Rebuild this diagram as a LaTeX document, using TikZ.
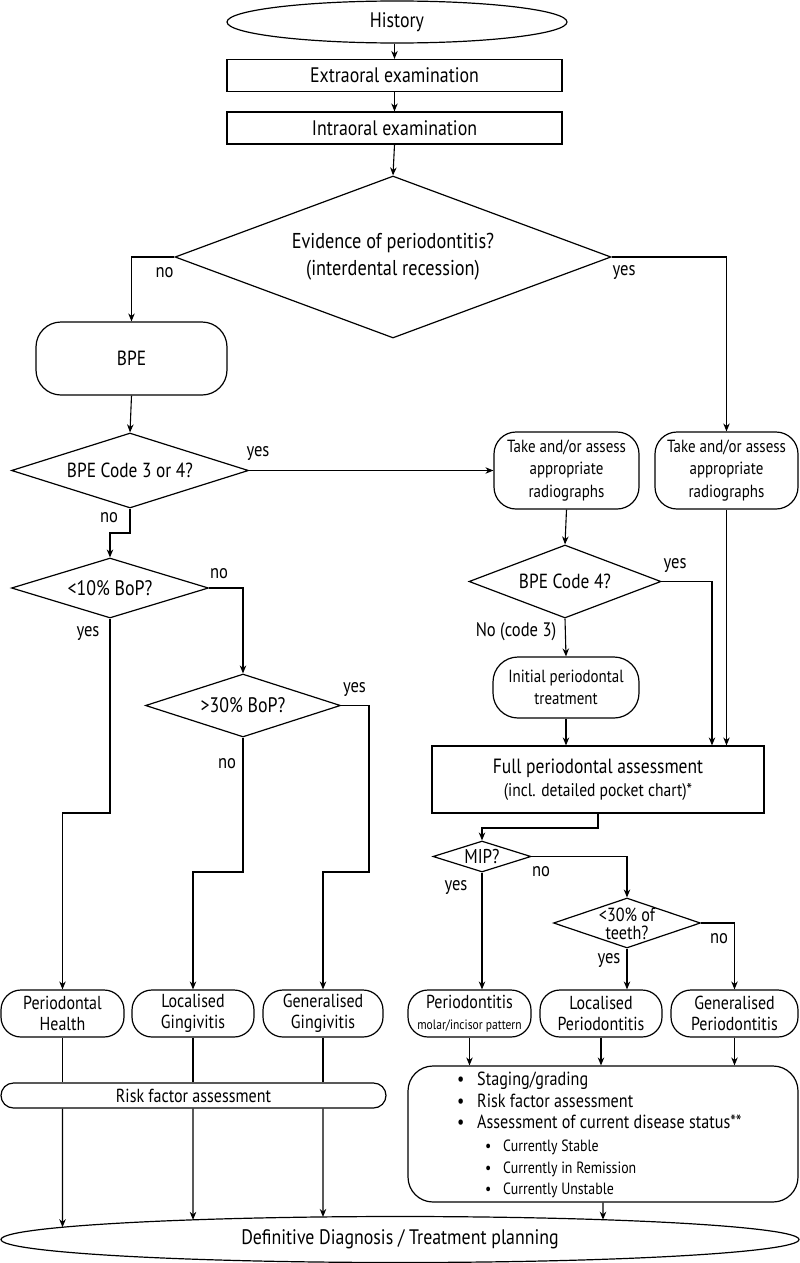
\documentclass[tikz,border=0pt]{standalone}
\usepackage{fontspec}
\setmainfont{PT Sans}[FakeStretch=0.85]
\usetikzlibrary{shapes.geometric,arrows.meta,intersections,calc}
\newcommand\FntMain{\fontsize{21}{23}\selectfont}
\newcommand\FntRad{\fontsize{17.6}{22.5}\selectfont}
\newcommand\FntBox{\fontsize{18.8}{20.5}\selectfont}
\newcommand\FntDia{\fontsize{21.5}{27}\selectfont}
\newcommand\FntLab{\fontsize{19.5}{20}\selectfont}
\newcommand\FntSm{\fontsize{18.3}{18}\selectfont}
\newcommand\FntTiny{\fontsize{13.6}{14}\selectfont}
\newcommand\FntList{\fontsize{19}{22}\selectfont}
\newcommand\FntSub{\fontsize{16.3}{22}\selectfont}
\newcommand\FntTeeth{\fontsize{19}{18.5}\selectfont}
\begin{document}
\begin{tikzpicture}[x=1pt,y=-1pt,
  base/.style={draw, line width=1.2pt, inner sep=0pt, align=center, font=\FntMain},
  sq/.style={base, rectangle},
  rnd/.style={base, rectangle, rounded corners=#1},
  ell/.style={base, ellipse},
  dia/.style={base, diamond},
  lab/.style={inner sep=0pt, font=\FntLab},
  arr/.style={line width=1.1pt, -{Stealth[length=8pt,width=6.5pt]}},
  ln/.style={line width=1.1pt},
  ]
\useasboundingbox (0,0) rectangle (800,1263);

% top
\node[ell, minimum width=340pt, minimum height=42pt] (hist) at (397,22) {History};
\node[sq, minimum width=335pt, minimum height=32pt] (extra) at (394.5,75.5) {Extraoral examination};
\node[sq, minimum width=335pt, minimum height=32pt] (intra) at (394.5,128) {Intraoral examination};
\node[dia, minimum width=436pt, minimum height=162pt,
  label={[font=\FntDia, align=center]center:Evidence of periodontitis?\\(interdental recession)}] (evid) at (393,257) {};

% left column
\node[rnd=25pt, font=\fontsize{20.5}{22}\selectfont, minimum width=191pt, minimum height=73pt] (bpe) at (131.5,358.5) {BPE};
\node[dia, minimum width=237pt, minimum height=75pt,
  label={[font=\fontsize{20.4}{22}\selectfont]center:BPE Code 3 or 4?}] (bpe34) at (130,470.5) {};
\node[dia, minimum width=197pt, minimum height=60pt,
  label={[font=\FntMain]center:<10\% BoP?}] (b10) at (110,588) {};
\node[dia, minimum width=195pt, minimum height=63pt,
  label={[font=\FntMain]center:>30\% BoP?}] (b30) at (243,705.5) {};

% right column
\node[rnd=22pt, font=\FntRad, minimum width=145pt, minimum height=77pt] (rad1) at (566.5,470.5) {Take and/or assess\\appropriate\\radiographs};
\node[rnd=22pt, font=\FntRad, minimum width=143pt, minimum height=77pt] (rad2) at (726.5,470.5) {Take and/or assess\\appropriate\\radiographs};
\node[dia, minimum width=192pt, minimum height=73pt,
  label={[font=\fontsize{20.4}{22}\selectfont]center:BPE Code 4?}] (code4) at (565,581.5) {};
\node[rnd=25pt, font=\FntRad, minimum width=146pt, minimum height=61pt] (init) at (566,687.5) {Initial periodontal\\treatment};
\node[sq, font=\fontsize{20.6}{23}\selectfont, minimum width=332pt, minimum height=67pt] (full) at (598,779.5) {Full periodontal assessment\\[0pt]{\FntSm (incl. detailed pocket chart)*}};
\node[dia, minimum width=98pt, minimum height=31pt,
  label={[font=\fontsize{20}{20}\selectfont]center:MIP?}] (mip) at (482,856.5) {};
\node[dia, minimum width=147pt, minimum height=50pt,
  label={[font=\FntTeeth, align=center, yshift=-1pt]center:<30\% of\\teeth?}] (t30) at (627,923) {};

% bottom row
\node[rnd=20pt, font=\FntBox, minimum width=123pt, minimum height=47pt] (ph) at (62.5,1013.5) {Periodontal\\Health};
\node[rnd=20pt, font=\FntBox, minimum width=122pt, minimum height=47pt] (lg) at (193,1013.5) {Localised\\Gingivitis};
\node[rnd=20pt, font=\FntBox, minimum width=120pt, minimum height=47pt] (gg) at (323,1013.5) {Generalised\\Gingivitis};
\node[rnd=20pt, font=\FntBox, minimum width=123pt, minimum height=47pt] (pmi) at (469.5,1013.5) {Periodontitis\\{\FntTiny molar/incisor pattern}};
\node[rnd=20pt, font=\FntBox, minimum width=122pt, minimum height=47pt] (lp) at (601,1013.5) {Localised\\Periodontitis};
\node[rnd=20pt, font=\FntBox, minimum width=127pt, minimum height=47pt] (gp) at (734.5,1013.5) {Generalised\\Periodontitis};

\node[rnd=12.5pt, font=\fontsize{18.9}{20}\selectfont, minimum width=385pt, minimum height=25pt] (rf) at (193.5,1095.5) {Risk factor assessment};
\node[rnd=25pt, minimum width=390pt, minimum height=136pt] (list) at (603,1134) {};
\node[inner sep=0pt, anchor=base west, font=\FntList] (l1) at (457,1085) {\makebox[20pt][l]{•}Staging/grading};
\node[inner sep=0pt, anchor=base west, font=\FntList] (l2) at (457,1107) {\makebox[20pt][l]{•}Risk factor assessment};
\node[inner sep=0pt, anchor=base west, font=\FntList] (l3) at (457,1128) {\makebox[20pt][l]{•}Assessment of current disease status**};
\node[inner sep=0pt, anchor=base west, font=\FntSub] (l4) at (485,1151) {\makebox[18pt][l]{•}Currently Stable};
\node[inner sep=0pt, anchor=base west, font=\FntSub] (l5) at (485,1173) {\makebox[18pt][l]{•}Currently in Remission};
\node[inner sep=0pt, anchor=base west, font=\FntSub] (l6) at (485,1194) {\makebox[18pt][l]{•}Currently Unstable};

\node[ell, minimum width=798pt, minimum height=46pt] (dd) at (400,1239.5) {Definitive Diagnosis / Treatment planning};

% helper levels
\coordinate (y1) at (0,533);
\coordinate (y2) at (0,813);
\coordinate (y3) at (0,872);
\coordinate (y4) at (0,828);
\coordinate (x1) at (369,0);
\coordinate (x2) at (712,0);

% connectors top
\draw[arr] (extra.north |- hist.south) -- (extra.north);
\draw[arr] (extra.south) -- (intra.north);
\draw[arr] (intra.south) -- (evid.north);
\draw[arr] (evid.west) -| (bpe.north);
\draw[arr] (evid.east) -| (rad2.north);
\draw[arr] (bpe.south) -- (bpe34.north);
\draw[arr] (bpe34.east) -- (rad1.west);
\draw[arr] (bpe34.south) -- (bpe34.south |- y1) -| (b10.north);
\draw[arr] (b10.east) -| (b30.north);
\draw[arr] (b10.south) -- (b10.south |- y2) -| (ph.north);
\draw[arr] (b30.south) -- (b30.south |- y3) -| (lg.north);
\draw[arr] (b30.east) -| (x1 |- y3) -| (gg.north);

\draw[arr] (rad1.south) -- (code4.north);
\draw[arr] (code4.south) -- (init.north);
\draw[arr] (init.south) -- (init.south |- full.north);
\draw[arr] (code4.east) -| (x2 |- full.north);
\draw[arr] (rad2.south) -- (rad2.south |- full.north);
\draw[arr] (full.south) -- (full.south |- y4) -| (mip.north);
\draw[arr] (mip.east) -| (t30.north);
\draw[arr] (mip.south) -- (mip.south |- pmi.north);
\draw[arr] (t30.south) -- (t30.south |- lp.north);
\draw[arr] (t30.east) -| (gp.north);

\draw[arr] (pmi.south) -- (pmi.south |- list.north);
\draw[arr] (lp.south) -- (lp.south |- list.north);
\draw[arr] (gp.south) -- (gp.south |- list.north);

\draw[ln] (ph.south) -- (ph.south |- rf.north);
\draw[ln] (lg.south) -- (lg.south |- rf.north);
\draw[ln] (gg.south) -- (gg.south |- rf.north);

\path[name path=ddp] (dd.center) ellipse [x radius=399pt, y radius=23pt];
\path[name path=v1] (ph.south) -- ++(0,300);
\path[name path=v2] (lg.south) -- ++(0,300);
\path[name path=v3] (gg.south) -- ++(0,300);
\path[name path=v4] (list.south) -- ++(0,300);
\path[name intersections={of=ddp and v1, by=i1}];
\path[name intersections={of=ddp and v2, by=i2}];
\path[name intersections={of=ddp and v3, by=i3}];
\path[name intersections={of=ddp and v4, by=i4}];
\draw[arr] (rf.south -| ph.south) -- (i1);
\draw[arr] (rf.south -| lg.south) -- (i2);
\draw[arr] (rf.south -| gg.south) -- (i3);
\draw[arr] (list.south) -- (i4);

% labels
\node[lab] (n1) at (164.5,273) {no};
\node[lab] (n2) at (624,273) {yes};
\node[lab] (n3) at (258,454) {yes};
\node[lab] (n4) at (109,518) {no};
\node[lab] (n5) at (219,574) {no};
\node[lab] (n6) at (88,633) {yes};
\node[lab] (n7) at (354.5,689) {yes};
\node[lab] (n8) at (227,764) {no};
\node[lab] (n9) at (516,632) {No (code 3)};
\node[lab] (n10) at (675,565) {yes};
\node[lab] (n11) at (541,872) {no};
\node[lab] (n12) at (456,887) {yes};
\node[lab] (n13) at (719,939) {no};
\node[lab] (n14) at (609,960) {yes};
\end{tikzpicture}
\end{document}
